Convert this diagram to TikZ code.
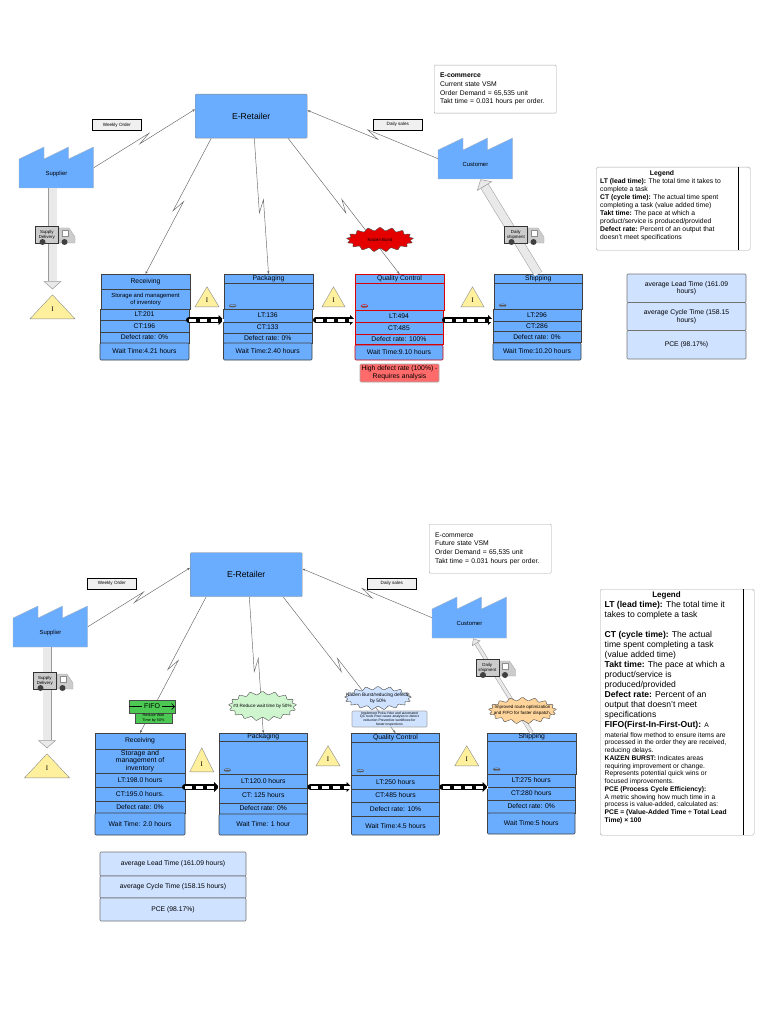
\documentclass[tikz,border=0pt]{standalone}
\usepackage{fontspec}
\setmainfont{Liberation Sans}
\newfontfamily\invfont{Liberation Serif}
\usetikzlibrary{arrows.meta,calc,positioning}
\usetikzlibrary{shapes.geometric,shapes.symbols}
\definecolor{boxblue}{HTML}{6AADFF}
\definecolor{paleblue}{HTML}{CFE2FF}
\definecolor{notered}{HTML}{FF6B6B}
\definecolor{invyellow}{HTML}{FFF09E}
\definecolor{truckgray}{HTML}{CCCCCC}
\definecolor{lanegray}{HTML}{E9E9E9}
\definecolor{fifogreen}{HTML}{4CC952}
\definecolor{palegreen}{HTML}{CFF5CF}
\definecolor{paleorange}{HTML}{FFD59B}
\newcommand{\fs}[1]{\fontsize{#1}{#1}\selectfont}
\tikzset{
    cell/.style 2 args={
           rectangle,
           draw=black!75,
           fill=boxblue,
           line width=.6pt,
           inner sep=0pt,
           outer sep=0pt,
           anchor=north west,
           align=center,
           font=\fontsize{6.8}{7.8}\selectfont,
           minimum width=#1,
           minimum height=#2,
           },
    redcell/.style={draw=red!85!black},
    row/.style 2 args={
           cell={#1}{#2},
           draw=black!55,
           fill=paleblue,
           },
    hub/.style={
           rectangle,
           rounded corners=1pt,
           draw=black!45,
           fill=boxblue,
           inner sep=0pt,
           anchor=north west,
           font=\fontsize{8.6}{10}\selectfont,
           minimum width=112,
           minimum height=44,
           },
    tag/.style={
           rectangle,
           draw=black,
           line width=.6pt,
           fill=black!6,
           inner sep=0pt,
           anchor=north west,
           font=\fs{4.6},
           minimum width=49,
           minimum height=11,
           },
    info/.style={
           rectangle,
           rounded corners=1pt,
           draw=black!35,
           fill=white,
           inner xsep=6pt,
           inner ysep=0pt,
           anchor=north west,
           text width=110pt,
           align=left,
           font=\fontsize{6.8}{8.7}\selectfont,
           minimum height=48,
           },
    sheet/.style={
           rectangle,
           rounded corners=1.5pt,
           draw=black!35,
           fill=white,
           anchor=north west,
           inner sep=0pt,
           },
    inv/.style 2 args={
           isosceles triangle,
           isosceles triangle stretches,
           shape border rotate=90,
           draw=black!45,
           fill=invyellow,
           inner sep=0pt,
           anchor=lower side,
           minimum width=#1,
           minimum height=#2,
           font=\invfont\fontsize{7}{7}\selectfont,
           },
    burst/.style={
           starburst,
           starburst points=17,
           starburst point height=4pt,
           random starburst=0,
           rounded corners=.8pt,
           draw=black!70,
           inner sep=0pt,
           },
    bursttext/.style={
           inner sep=0pt,
           align=center,
           },
    eye/.style={
           ellipse,
           draw=black!65,
           inner sep=0pt,
           minimum width=7,
           minimum height=3,
           path picture={\draw[draw=black!65]
               (path picture bounding box.west) -- (path picture bounding box.east);},
           },
    signal/.style={
           ->,>={Stealth[length=3pt,width=2.4pt]},
           draw=black!60,
           line width=.45pt,
           to path={
              -- ($(\tikztostart)!.5!(\tikztotarget)!7pt!#1:(\tikztotarget)$)
              -- ($(\tikztostart)!.5!(\tikztotarget)!-7pt!#1:(\tikztotarget)$)
              -- (\tikztotarget)},
           },
    signal/.default=-23,
    push/.style={
           line width=6pt,
           line cap=round,
           -{Triangle[length=5pt,width=10pt]},
           postaction={draw=white,line width=3pt,-,line cap=butt,
               dash pattern=on 7pt off 4pt},
           },
    lane/.style={
           draw=black!40,
           line width=.5pt,
           double=lanegray,
           double distance=#1,
           },
}
% factory outline, name, left, top, label
\newcommand{\factory}[4]{
    \fill[boxblue,draw=black!30,line width=.3pt] (#2,#3+12) -- ++(25,-12) -- ++(0,12)
        -- ++(24.5,-12) -- ++(0,12) -- ++(25,-12) -- ++(0,41) -- ++(-74.5,0) -- cycle;
    \node[inner sep=0pt,anchor=north west,minimum width=74.5,minimum height=41] (#1) at (#2,#3) {};
    \node[font=\fs{5.9},inner sep=0pt] (#1_label) at ([yshift=-6]#1.center) {#4};
}
% truck, name, left, top, label
\newcommand{\truck}[4]{
    \fill[truckgray,draw=black!35,line width=.3pt] (#2+24,#3+2) -- ++(10,0) -- ++(6,9) -- ++(0,6) -- ++(-16,0) -- cycle;
    \fill[white,draw=black!45,line width=.3pt] (#2+27,#3+4) rectangle ++(6,6);
    \node[rectangle,draw=black!80,line width=.6pt,fill=truckgray,inner sep=0pt,
        anchor=north west,minimum width=23,minimum height=17,align=center,
        font=\fontsize{4.4}{5}\selectfont] (#1) at (#2,#3) {#4};
    \fill[black!75] (#2+7.5,#3+16) circle (3) (#2+29.5,#3+16) circle (3);
}
\begin{document}
\begin{tikzpicture}[x=1pt,y=-1pt]
        \useasboundingbox (0,0) rectangle (768,1024);

        % Current state map
        \node[hub] (Retailer) at (195,94) {E-Retailer};
        \node[tag] (Weekly) at (92,119.5) {Weekly Order};
        \node[tag] (Daily) at (373,119) {Daily sales};
        \node[info] (Info) at (434,65)
        {\textbf{E-commerce}\\
         Current state VSM\\
         Order Demand = 65,535 unit\\
         Takt time = 0.031 hours per order.};
        \factory{Supplier}{19}{147}{Supplier}
        \factory{Customer}{438}{138}{Customer}

        % Receiving
        \node[cell={89}{15}] (R_head) at (101,274) {Receiving};
        \node[cell={89}{20},font=\fontsize{5.9}{7}\selectfont] (R_sub) at (101,289) {Storage and management\\of inventory};
        \node[cell={89}{11}] (R_lt) at (100,309) {LT:201};
        \node[cell={89}{12}] (R_ct) at (100,320) {CT:196};
        \node[cell={89}{11}] (R_def) at (100,332) {Defect rate: 0\%};
        \node[cell={89}{17},rounded corners=1pt] (R_wait) at (100,343) {Wait Time:4.21 hours};

        % Packaging
        \node[cell={89}{9}] (P_head) at (224,274) {Packaging};
        \node[cell={89}{26}] (P_sub) at (224,283) {};
        \node[cell={88.5}{13}] (P_lt) at (223.5,309) {LT:136};
        \node[cell={88.5}{11}] (P_ct) at (223.5,322) {CT:133};
        \node[cell={88.5}{10}] (P_def) at (223.5,333) {Defect rate: 0\%};
        \node[cell={88.5}{17},rounded corners=1pt] (P_wait) at (223.5,343) {Wait Time:2.40 hours};
        \node[eye] (P_eye) at (232.7,305.7) {};

        % Quality control
        \node[cell={89}{9},redcell] (Q_head) at (355,274) {Quality Control};
        \node[cell={89}{27},redcell] (Q_sub) at (355,283) {};
        \node[cell={88}{12},redcell] (Q_lt) at (355,310) {LT:494};
        \node[cell={88}{12},redcell] (Q_ct) at (355,322) {CT:485};
        \node[cell={88}{10.5},redcell] (Q_def) at (355,334) {Defect rate: 100\%};
        \node[cell={88}{15},redcell,rounded corners=1pt] (Q_wait) at (355,345) {Wait Time:9.10 hours};
        \node[eye,draw=red] (Q_eye) at (364.3,306) {};
        \node[cell={79}{18},draw=black!35,fill=notered,rounded corners=1pt] (Q_note) at (360,364) {High defect rate (100\%) -\\Requires analysis};

        % Shipping
        \node[cell={88.5}{9}] (S_head) at (494,274) {Shipping};
        \node[cell={88.5}{26}] (S_sub) at (494,283) {};
        \node[cell={88}{12}] (S_lt) at (493,309) {LT:296};
        \node[cell={88}{10}] (S_ct) at (493,321) {CT:286};
        \node[cell={88}{11.5}] (S_def) at (493,331) {Defect rate: 0\%};
        \node[cell={88}{17},rounded corners=1pt] (S_wait) at (493,343) {Wait Time:10.20 hours};
        \node[eye] (S_eye) at (502.7,305.3) {};

        % inventory triangles
        \node[inv={45}{24}] (Inv_a) at (52.5,319) {I};
        \node[inv={24}{20}] (Inv_b) at (207,307) {I};
        \node[inv={23}{20}] (Inv_c) at (333.5,307) {I};
        \node[inv={23}{20}] (Inv_d) at (472.5,307) {I};

        % draw the paths
        \draw[signal=19] (Supplier.east) to (Retailer.173);
        \draw[signal] (Customer.west) to (Retailer.6);
        \draw[signal] (Retailer.209) to (R_head.north);
        \draw[signal] (Retailer.278) to (P_head.north);
        \draw[signal] (Retailer.329) to (Q_head.north);
        \draw[lane=8pt,-{Triangle[length=8pt,width=18pt,fill=lanegray,line width=.5pt]},shorten >=5pt]
            (Inv_a.north |- Supplier.south) -- (Inv_a.north);
        \draw[lane=8pt,-{Triangle[length=8pt,width=18pt,fill=lanegray,line width=.5pt]}]
            (S_head.north) -- ([xshift=5]Customer.south);
        \draw[push] (R_ct.north east) -- (P_lt.south west |- R_ct.north);
        \draw[push,shorten <=4pt] (P_ct.north east |- R_ct.north) -- (Q_lt.south west |- R_ct.north);
        \draw[push,shorten <=2pt] (Q_ct.north east |- R_ct.north) -- (S_lt.south west |- R_ct.north);

        \truck{Truck_a}{35}{226}{Supply\\Delivery}
        \truck{Truck_b}{504}{226}{Daily\\shipment}
        \node[burst,fill=red!90!black,minimum width=68pt,minimum height=25pt] (Burst_a) at (380,239.5) {};
        \node[bursttext,font=\fs{4.4}] (Burst_a_text) at (Burst_a.center) {Kaizen Burst};

        % legend and totals
        \node[sheet,minimum width=154,minimum height=83] (Legend_a) at (596,167) {};
        \draw[line width=.6pt] ([xshift=142]Legend_a.north west) -- ([xshift=142]Legend_a.south west);
        \node[font=\bfseries\fs{6.8},inner sep=0pt] (Legend_a_title) at (662,174) {Legend};
        \node[anchor=north west,inner sep=0pt,align=left,font=\fontsize{6.8}{8}\selectfont] (Legend_a_text) at (600,178)
        {\textbf{LT (lead time):} The total time it takes to\\
         complete a task\\
         \textbf{CT (cycle time):} The actual time spent\\
         completing a task (value added time)\\
         \textbf{Takt time:} The pace at which a\\
         product/service is produced/provided\\
         \textbf{Defect rate:} Percent of an output that\\
         doesn't meet specifications};
        \node[row={119}{28.5},rounded corners=1pt] (Avg_a_lt) at (627,274) {average Lead Time (161.09\\hours)};
        \node[row={119}{28},rounded corners=1pt] (Avg_a_ct) at (627,302.5) {average Cycle Time (158.15\\hours)};
        \node[row={119}{28.5},rounded corners=1pt] (Avg_a_pce) at (627,330.5) {PCE (98.17\%)};

        % Future state map
        \node[hub] (Retailer2) at (190,552.5) {E-Retailer};
        \node[tag] (Weekly2) at (87,578) {Weekly Order};
        \node[tag] (Daily2) at (367,578) {Daily sales};
        \node[info,minimum height=49] (Info2) at (429,524)
        {E-commerce\\
         Future state VSM\\
         Order Demand = 65,535 unit\\
         Takt time = 0.031 hours per order.};
        \factory{Supplier2}{13}{606}{Supplier}
        \factory{Customer2}{432}{597}{Customer}

        % Receiving
        \node[cell={90}{16}] (R2_head) at (95,733) {Receiving};
        \node[cell={90}{24},font=\fontsize{7}{7.6}\selectfont] (R2_sub) at (95,749) {Storage and\\management of\\inventory};
        \node[cell={90}{14}] (R2_lt) at (95,773) {LT:198.0 hours};
        \node[cell={90}{14}] (R2_ct) at (95,787) {CT:195.0 hours.};
        \node[cell={90}{12}] (R2_def) at (95,801) {Defect rate: 0\%};
        \node[cell={90}{22},rounded corners=1pt] (R2_wait) at (95,813) {Wait Time: 2.0 hours};

        % Packaging
        \node[cell={88.5}{8}] (P2_head) at (219,733) {Packaging};
        \node[cell={88.5}{33}] (P2_sub) at (219,741) {};
        \node[cell={88.5}{14}] (P2_lt) at (219,774) {LT:120.0 hours};
        \node[cell={88.5}{15}] (P2_ct) at (219,788) {CT: 125 hours};
        \node[cell={88.5}{11}] (P2_def) at (219,803) {Defect rate: 0\%};
        \node[cell={88.5}{21},rounded corners=1pt] (P2_wait) at (219,814) {Wait Time: 1 hour};
        \node[eye] (P2_eye) at (227.3,770) {};

        % Quality control
        \node[cell={88}{9}] (Q2_head) at (351.5,733) {Quality Control};
        \node[cell={88}{33}] (Q2_sub) at (351.5,742) {};
        \node[cell={88}{14}] (Q2_lt) at (351.5,775) {LT:250 hours};
        \node[cell={88}{13}] (Q2_ct) at (351.5,789) {CT:485 hours};
        \node[cell={88}{14}] (Q2_def) at (351.5,802) {Defect rate: 10\%};
        \node[cell={88}{18.5},rounded corners=1pt] (Q2_wait) at (351.5,816.5) {Wait Time:4.5 hours};
        \node[eye] (Q2_eye) at (360.3,770.7) {};

        % Shipping
        \node[cell={88.5}{8}] (S2_head) at (487.5,733) {Shipping};
        \node[cell={88.5}{33}] (S2_sub) at (487.5,741) {};
        \node[cell={87.5}{13}] (S2_lt) at (487.5,774) {LT:275 hours};
        \node[cell={87.5}{13}] (S2_ct) at (487.5,787) {CT:280 hours};
        \node[cell={87.5}{13}] (S2_def) at (487.5,800) {Defect rate: 0\%};
        \node[cell={87.5}{21},rounded corners=1pt] (S2_wait) at (487.5,813) {Wait Time:5 hours};
        \node[eye] (S2_eye) at (496.7,769.3) {};

        % inventory triangles
        \node[inv={45}{24}] (Inv2_a) at (47,778) {I};
        \node[inv={24}{24}] (Inv2_b) at (201.7,772) {I};
        \node[inv={24}{20}] (Inv2_c) at (328,766) {I};
        \node[inv={24}{20}] (Inv2_d) at (466.7,766) {I};

        % draw the paths
        \draw[signal=19] (Supplier2.east) to (Retailer2.173);
        \draw[signal] (Customer2.west) to (Retailer2.6);
        \draw[signal] (Retailer2.209) to (R2_head.north);
        \draw[signal] (Retailer2.278) to (P2_head.north);
        \draw[signal] (Retailer2.329) to (Q2_head.north);
        \draw[lane=8pt,-{Triangle[length=8pt,width=18pt,fill=lanegray,line width=.5pt]},shorten >=5pt]
            (Inv2_a.north |- Supplier2.south) -- (Inv2_a.north);
        \draw[lane=3pt,-{Triangle[length=6pt,width=10pt,fill=lanegray,line width=.5pt]}]
            (S2_head.north) -- ([xshift=3.7]Customer2.south);
        \draw[push] (R2_ct.north east) -- (P2_lt.south west |- R2_ct.north);
        \draw[push,shorten <=3pt] (P2_ct.north east |- R2_ct.north) -- (Q2_lt.south west |- R2_ct.north);
        \draw[push,shorten <=3pt] (Q2_ct.north east |- R2_ct.north) -- (S2_lt.south west |- R2_ct.north);

        \truck{Truck2_a}{33}{672}{Supply\\Delivery}
        \truck{Truck2_b}{475.5}{659}{Daily\\shipment}

        % callouts
        \node[cell={46}{13},draw=black!70,fill=fifogreen,anchor=north west,font=\fs{7}] (Fifo) at (129,700) {FIFO};
        \draw[line width=.6pt] (Fifo.west) -- ++(13,0);
        \draw[->,>={Straight Barb[length=3pt]},line width=.6pt] ([xshift=-13]Fifo.east) -- (Fifo.east);
        \node[cell={37}{10},draw=black!70,fill=fifogreen,font=\fontsize{3.8}{4.4}\selectfont] (Fifo_note) at (135,713) {Reduce Wait\\Time by 50\%};
        \node[burst,fill=palegreen,minimum width=69pt,minimum height=30pt] (Burst_b) at (262.5,706) {};
        \node[bursttext,font=\fs{4.6}] (Burst_b_text) at (Burst_b.center) {\#3 Reduce wait time by 50\%};
        \node[burst,fill=paleblue,minimum width=68pt,minimum height=24pt] (Burst_c) at (378,698) {};
        \node[bursttext,font=\fontsize{4.8}{6}\selectfont] (Burst_c_text) at (Burst_c.center) {Kaizen Burst/reducing defects\\by 50\%};
        \node[cell={75}{16},draw=black!35,fill=paleblue,rounded corners=1pt,font=\fontsize{3.4}{3.9}\selectfont] (Burst_c_note) at (352,711)
        {Implement Poka-Yoke and automated\\QC tools Root cause analysis to detect\\reduction Preventive workflows for\\faster inspections};
        \node[burst,fill=paleorange,minimum width=69pt,minimum height=27pt] (Burst_d) at (522.5,710.5) {};
        \node[bursttext,font=\fontsize{4.5}{5.8}\selectfont] (Burst_d_text) at (Burst_d.center) {Improved route optimization\\and FIFO for faster dispatch.};

        % legend and totals
        \node[sheet,minimum width=154,minimum height=246] (Legend_b) at (600,589) {};
        \draw[line width=.6pt] ([xshift=143]Legend_b.north west) -- ([xshift=143]Legend_b.south west);
        \node[font=\bfseries\fs{8},inner sep=0pt] (Legend_b_title) at (666.5,595) {Legend};
        \node[anchor=north west,inner sep=0pt,align=left,font=\fontsize{8.6}{10}\selectfont] (Legend_b_text) at (604.5,601)
        {\textbf{LT (lead time):} The total time it\\
         takes to complete a task\\[10pt]
         \textbf{CT (cycle time):} The actual\\
         time spent completing a task\\
         (value added time)\\
         \textbf{Takt time:} The pace at which a\\
         product/service is\\
         produced/provided\\
         \textbf{Defect rate:} Percent of an\\
         output that doesn't meet\\
         specifications\\
         \textbf{FIFO(First-In-First-Out):} {\fs{6.7}A}};
        \node[anchor=north west,inner sep=0pt,align=left,font=\fontsize{6.7}{7.75}\selectfont] (Legend_b_small) at (604.5,732)
        {material flow method to ensure items are\\
         processed in the order they are received,\\
         reducing delays.\\
         \textbf{KAIZEN BURST:} Indicates areas\\
         requiring improvement or change.\\
         Represents potential quick wins or\\
         focused improvements.\\
         \textbf{PCE (Process Cycle Efficiency):}\\
         A metric showing how much time in a\\
         process is value-added, calculated as:\\
         \textbf{PCE = (Value-Added Time ÷ Total Lead}\\
         \textbf{Time) × 100}};
        \node[row={146}{24},rounded corners=1pt] (Avg_b_lt) at (100,852) {average Lead Time (161.09 hours)};
        \node[row={146}{22},rounded corners=1pt] (Avg_b_ct) at (100,876) {average Cycle Time (158.15 hours)};
        \node[row={146}{23},rounded corners=1pt] (Avg_b_pce) at (100,898) {PCE (98.17\%)};

\end{tikzpicture}
\end{document}
